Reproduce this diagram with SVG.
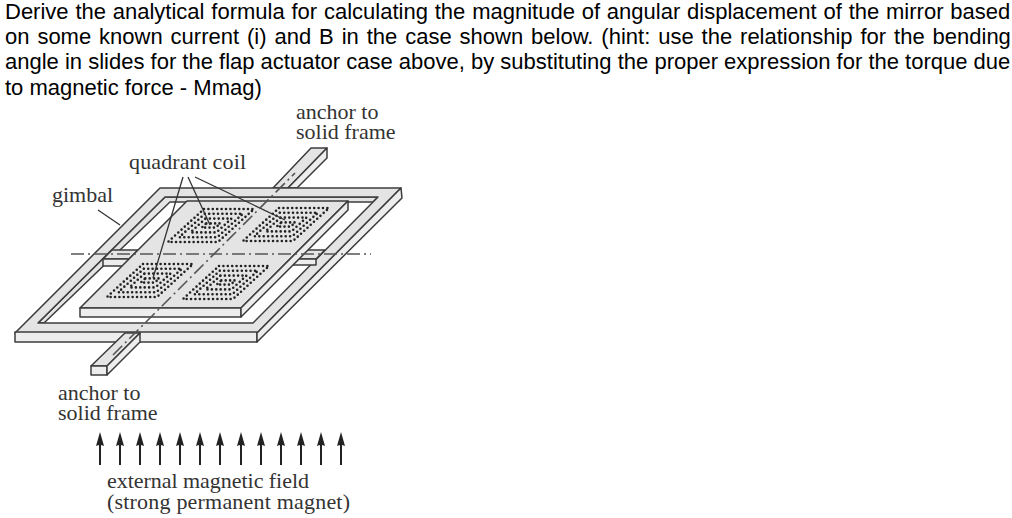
<svg xmlns="http://www.w3.org/2000/svg" xmlns:xlink="http://www.w3.org/1999/xlink" width="1012" height="518" viewBox="0 0 1012 518">
<style>
.q{font-family:"Liberation Sans",Arial,sans-serif;font-size:22px;fill:#000}
.s{font-family:"Liberation Serif","Times New Roman",serif;font-size:22px;fill:#333}
.top{fill:#e4e4e4;stroke:#3c3c3c;stroke-width:1.500;stroke-linejoin:round}
.side{fill:#ededed;stroke:#3c3c3c;stroke-width:1.500;stroke-linejoin:round}
.dots{fill:none;stroke:#222;stroke-width:2.600;stroke-linecap:round;stroke-dasharray:0 4.400}
.lead{fill:none;stroke:#333;stroke-width:1.300}
.axis{fill:none;stroke:#555;stroke-width:1.600;stroke-dasharray:13 4 2 4}
.field{stroke:#222;stroke-width:2;fill:none}
</style>
<defs>
<path id="quad" d="M36 0H86L50 33H0ZM36.800 4.800H74.800L49.300 28.200H11.300ZM37.500 9.600H63.500L48.500 23.400H22.500ZM38.300 14.400H52.300L47.700 18.600H33.700Z"/>
<path id="arr" d="M0 0L4 14Q0 12 -4 14Z" fill="#222"/>
</defs>
<g id="question">
<text class="q" x="5" y="19" word-spacing="0.7">Derive the analytical formula for calculating the magnitude of angular displacement of the mirror based</text>
<text class="q" x="5" y="44" word-spacing="1.800">on some known current (i) and B in the case shown below. (hint: use the relationship for the bending</text>
<text class="q" x="5" y="69">angle in slides for the flap actuator case above, by substituting the proper expression for the torque due</text>
<text class="q" x="5" y="95">to magnetic force - Mmag)</text>
</g>
<g id="anchor-top">
<path class="top" d="M311 148H327L288 188H273Z"/>
<path class="side" d="M327 148V158L297 188H288Z"/>
</g>
<g id="gimbal-frame">
<path d="M165 197H378L253 323H38Z" fill="#fff"/>
<path class="top" d="M165 197H378L373 202H170L44 323H38Z"/>
<path class="top" fill-rule="evenodd" d="M160 188H401L257 333H15ZM165 197L38 323H253L378 197Z"/>
<path class="side" d="M15 332H257V342H15Z"/>
<path class="side" d="M401 188L402 198L257 342V333Z"/>
</g>
<g id="anchor-bottom">
<path class="top" d="M91 366H107L140 333H125Z"/>
<path class="side" d="M91 366H107V375H91Z"/>
<path class="side" d="M107 366L140 333V342L107 375Z"/>
</g>
<g id="hinge-left">
<path class="top" d="M112 250H138L129 259H103Z"/>
<path class="side" d="M103 259H129V266H103Z"/>
</g>
<g id="hinge-right">
<path class="top" d="M299 250H325L316 259H290Z"/>
<path class="side" d="M290 259H316V265H290Z"/>
</g>
<g id="mirror">
<path class="top" d="M187 201H348L241 308H80Z"/>
<path class="side" d="M80 308H241V317H80Z"/>
<path class="side" d="M348 201V210L241 317V308Z"/>
</g>
<g id="coils" class="dots">
<use href="#quad" xlink:href="#quad" x="168" y="209"/>
<use href="#quad" xlink:href="#quad" x="243" y="208"/>
<use href="#quad" xlink:href="#quad" x="107" y="264"/>
<use href="#quad" xlink:href="#quad" x="183" y="266"/>
</g>
<g id="connectors">
<path class="lead" d="M183 177L153 278"/>
<path class="lead" d="M188 177L210 225"/>
<path class="lead" d="M195 177L285 220"/>
<path class="lead" d="M98 210L120 225"/>
<path class="axis" d="M71 254H371"/>
<path class="axis" d="M113 355L295 173"/>
</g>
<g id="field-arrows">
<path class="field" d="M100 465V442M120 465V442M140 465V442M160 465V442M180 465V442M200 465V442M220 465V442M241 465V442M261 465V442M281 465V442M301 465V442M321 465V442M341 465V442"/>
<use href="#arr" xlink:href="#arr" x="100" y="432"/><use href="#arr" xlink:href="#arr" x="120" y="432"/><use href="#arr" xlink:href="#arr" x="140" y="432"/><use href="#arr" xlink:href="#arr" x="160" y="432"/><use href="#arr" xlink:href="#arr" x="180" y="432"/><use href="#arr" xlink:href="#arr" x="200" y="432"/><use href="#arr" xlink:href="#arr" x="220" y="432"/><use href="#arr" xlink:href="#arr" x="241" y="432"/><use href="#arr" xlink:href="#arr" x="261" y="432"/><use href="#arr" xlink:href="#arr" x="281" y="432"/><use href="#arr" xlink:href="#arr" x="301" y="432"/><use href="#arr" xlink:href="#arr" x="321" y="432"/><use href="#arr" xlink:href="#arr" x="341" y="432"/>
</g>
<g id="labels">
<text class="s" x="296" y="119">anchor to</text>
<text class="s" x="296" y="139">solid frame</text>
<text class="s" x="129" y="169" textLength="117">quadrant coil</text>
<text class="s" x="52" y="202">gimbal</text>
<text class="s" x="58" y="400">anchor to</text>
<text class="s" x="58" y="420">solid frame</text>
<text class="s" x="107" y="488" textLength="202">external magnetic field</text>
<text class="s" x="107" y="509" textLength="243">(strong permanent magnet)</text>
</g>
</svg>
